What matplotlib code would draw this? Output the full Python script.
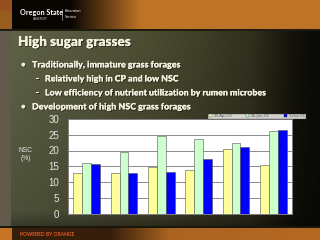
import numpy as np
import matplotlib.pyplot as plt
import matplotlib.patheffects as pe
from matplotlib.patches import Patch

# data
dates = ['20-Apr-01', '26-Jun-01', '1-Oct-01']
apr_nsc = [12.7, 12.8, 14.9, 13.7, 20.6, 15.3]
jun_nsc = [16.0, 19.6, 24.5, 23.7, 22.3, 26.2]
oct_nsc = [15.7, 13.0, 13.1, 17.4, 21.2, 26.5]
y_ticks = [0, 5, 10, 15, 20, 25, 30]
bar_colors = ['#FFFF99', '#CCFFCC', '#0000FF']

title = 'High sugar grasses'
bullets = [
    (0, 'Traditionally, immature grass forages'),
    (1, 'Relatively high in CP and low NSC'),
    (1, 'Low efficiency of nutrient utilization by rumen microbes'),
    (0, 'Development of high NSC grass forages'),
]

W, H = 320, 240
fig = plt.figure(figsize=(3.2, 2.4), dpi=100)

# ---- slide background (gradients) ----
x = np.arange(W)
y = np.arange(H)
bg = np.zeros((H, W, 3))
body = [np.interp(x, [0, 12, 150, 250, 295, 320], v) for v in
        ([100, 94, 76, 50, 18, 10], [95, 98, 76, 48, 17, 10], [78, 70, 50, 30, 10, 6])]
vfac = np.interp(y, [30, 210, 228], [1.0, 0.82, 0.55])
for c in range(3):
    bg[:, :, c] = body[c][None, :] * vfac[:, None]
# left strip
bg[30:228, :11] = [96, 90, 74]
# top banner
dark = np.interp(x, [0, 11, 12, 70, 140, 320], [0.8, 0.8, 0.05, 0.05, 1.0, 1.0])
orange = np.array([190, 115, 38])
for c in range(3):
    bg[:29, :, c] = orange[c] * dark[None, :]
bg[:11, :12] = [150, 80, 30]
bg[29:31] = [30, 28, 15]
# footer band
fdark = np.interp(x, [0, 11, 12, 110, 170, 320], [1.1, 1.1, 0.3, 0.3, 0.95, 1.0])
forange = np.array([180, 105, 35])
for c in range(3):
    bg[228:, :, c] = np.clip(forange[c] * fdark[None, :], 0, 255)
bg[226:228] = [25, 22, 12]

bgax = fig.add_axes([0, 0, 1, 1])
bgax.imshow(bg.astype(np.uint8), extent=[0, W, H, 0], aspect='auto')
bgax.set_xlim(0, W)
bgax.set_ylim(H, 0)
bgax.axis('off')

def px(xp, yp):
    return xp / W, 1 - yp / H

slide_font = ['Lato', 'DejaVu Sans']
txt_col = '#f5f0de'
shadow = [pe.withSimplePatchShadow(offset=(0.6, -0.6), shadow_rgbFace='black', alpha=0.6),
          pe.Normal()]

# logo
fig.text(*px(20, 13), 'Oregon State', color='white', fontsize=5.2, fontweight='bold',
         family=slide_font, va='center')
fig.text(*px(33, 18.5), 'UNIVERSITY', color='#dddddd', fontsize=1.8, family=slide_font, va='center')
bgax.plot([62, 62], [9, 20], color='#cccccc', lw=0.4)
fig.text(*px(65, 11.5), 'Extension', color='white', fontsize=2.8, family=slide_font, va='center')
fig.text(*px(65, 16.5), 'Service', color='white', fontsize=2.8, family=slide_font, va='center')

# title and bullets
fig.text(*px(18, 42), title, color=txt_col, fontsize=9.7, fontweight='heavy',
         family=slide_font, va='center', path_effects=shadow)
line_y = [65, 79, 93, 107]
for (lvl, s), ly in zip(bullets, line_y):
    if lvl == 0:
        fig.text(*px(20.5, ly), '\u2022', color=txt_col, fontsize=7, family=slide_font,
                 va='center', path_effects=shadow)
        fig.text(*px(32, ly), s, color=txt_col, fontsize=6.4, fontweight='heavy',
                 family=slide_font, va='center', path_effects=shadow)
    else:
        fig.text(*px(35, ly), '\u2013', color=txt_col, fontsize=6.4, fontweight='bold',
                 family=slide_font, va='center', path_effects=shadow)
        fig.text(*px(45, ly), s, color=txt_col, fontsize=6.3, fontweight='heavy',
                 family=slide_font, va='center', path_effects=shadow)

fig.text(*px(20, 234), 'POWERED BY ORANGE', color='#e05a2a', fontsize=3.6, fontweight='bold',
         family=slide_font, va='center')

# ---- chart ----
ax = fig.add_axes([68 / W, 1 - 213.5 / H, (292 - 68) / W, (213.5 - 119) / H])
ax.set_facecolor('white')
n = len(apr_nsc)
idx = np.arange(n)
bw = 0.24
for k, (vals, col, lab) in enumerate(zip([apr_nsc, jun_nsc, oct_nsc], bar_colors, dates)):
    ax.bar(idx + (k - 1) * bw, vals, bw, color=col, edgecolor='#555555', linewidth=0.4,
           label=lab, zorder=3)
ax.set_xlim(-0.5, n - 0.5)
ax.set_ylim(0, 30)
ax.set_yticks(y_ticks)
ax.set_yticklabels([str(t) for t in y_ticks], family=['Liberation Sans', 'DejaVu Sans'],
                   fontsize=7, color='#e6e6e6')
ax.tick_params(axis='y', length=0, pad=6.5)
ax.set_xticks([])
ax.grid(axis='y', color='#8a8a8a', linewidth=0.7, zorder=0)
for sp in ax.spines.values():
    sp.set_color('#808080')
    sp.set_linewidth(0.7)

fig.text(*px(25.5, 150.5), 'NSC', color='#e6e6e6', fontsize=4.8,
         family=['Liberation Sans', 'DejaVu Sans'], ha='center', va='center')
fig.text(*px(25.5, 159), '(%)', color='#e6e6e6', fontsize=4.8,
         family=['Liberation Sans', 'DejaVu Sans'], ha='center', va='center')

handles = [Patch(facecolor=c, edgecolor='#444444', linewidth=0.3) for c in bar_colors]
leg = fig.legend(handles, dates, ncol=3, fontsize=2.8, loc='upper right',
                 bbox_to_anchor=px(306, 113.5), frameon=True, fancybox=False,
                 borderpad=0.15, handlelength=0.8, handleheight=0.8, handletextpad=0.4,
                 columnspacing=3.5, borderaxespad=0)
leg.get_frame().set_edgecolor('#333333')
leg.get_frame().set_linewidth(0.3)
for t in leg.get_texts():
    t.set_color('#555555')

fig.savefig('out.png', dpi=100)
